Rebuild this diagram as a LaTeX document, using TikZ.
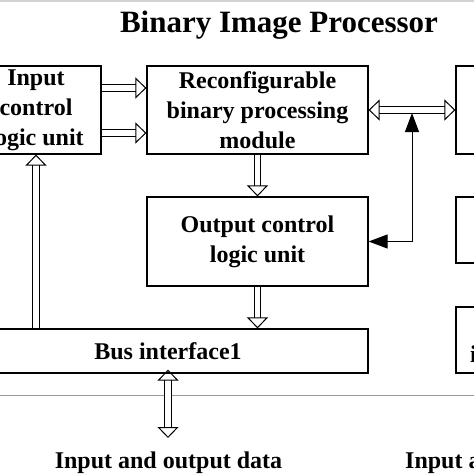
\documentclass[tikz,border=0pt]{standalone}
\usepackage{fontspec}
\setmainfont{Liberation Serif}
\usetikzlibrary{arrows.meta}

\tikzset{
  txt/.style={font=\bfseries\fontsize{24}{30}\selectfont, align=center, inner sep=0pt},
  block/.style={txt, draw, line width=1.2pt},
  hollow/.style={double, double distance=5.5pt, line width=1pt, -{Triangle[open, length=11pt, width=21pt]}},
  hollowboth/.style={double, double distance=5.5pt, line width=1pt, {Triangle[open, length=11pt, width=21pt]}-{Triangle[open, length=11pt, width=21pt]}},
  solidboth/.style={line width=1pt, {Triangle[length=19pt, width=14pt]}-{Triangle[length=19pt, width=14pt]}}
}

\begin{document}
\begin{tikzpicture}[x=1pt, y=-1pt]
\useasboundingbox (0,0) rectangle (474,474);
\clip (0,0) rectangle (474,474);
%frame strip
\fill[gray!35] (0,0) rectangle (474,2);
%title
\node[txt, font=\bfseries\fontsize{31}{36}\selectfont, anchor=base] (title) at (279,32) {Binary Image Processor};
%blocks
\node[block, minimum width=130pt, minimum height=88pt] (inctl) at (36,110) {Input\\control\\logic unit};
\node[block, minimum width=221pt, minimum height=88pt] (reconf) at (257.5,110) {Reconfigurable\\binary processing\\module};
\node[block, minimum width=221pt, minimum height=89pt] (outctl) at (257.5,241.5) {Output control\\logic unit};
\node[block, minimum width=400pt, minimum height=44pt] (bus) at (168,351) {Bus interface1};
%right column
\node[block, minimum width=221pt, minimum height=88pt] (rtop) at (566.5,110) {};
\node[block, minimum width=221pt, minimum height=66pt] (rmid) at (566.5,230) {};
\node[block, minimum width=221pt, minimum height=66pt] (rbot) at (566.5,340) {};
\node[txt, anchor=base west] (rbotlbl) at (470,362) {interface2};
%separator
\draw[gray!80, line width=1pt] (0,395) -- (474,395);
%bottom labels
\node[txt, anchor=base] (iodata) at (168.5,468) {Input and output data};
\node[txt, anchor=base west] (iodata2) at (405,468) {Input and output data};
\coordinate (ioend) at (168,438);
%arrows
\draw[hollow] ([yshift=22pt]inctl.east) -- ([yshift=22pt]reconf.west);
\draw[hollow] ([yshift=-23pt]inctl.east) -- ([yshift=-23pt]reconf.west);
\draw[hollow] (inctl.south |- bus.north) -- (inctl.south);
\draw[hollow] (reconf.south) -- (outctl.north);
\draw[hollow] (outctl.south) -- (outctl.south |- bus.north);
\draw[hollowboth] (reconf.east) -- (rtop.west);
\draw[hollowboth] ([yshift=4pt]bus.south) -- (ioend);
\coordinate (tap) at (412,113);
\draw[solidboth] (outctl.east) -| (tap);
\end{tikzpicture}
\end{document}
